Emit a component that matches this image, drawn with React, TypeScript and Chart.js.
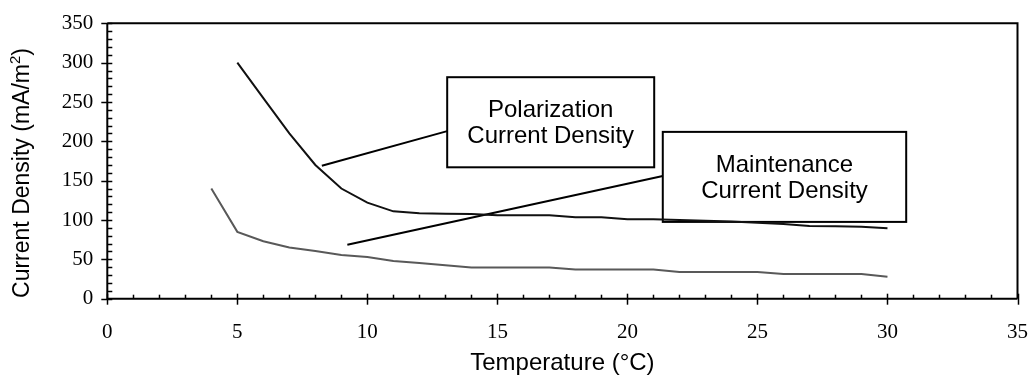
import React, { useEffect, useRef } from "react";
import { Chart, registerables } from "chart.js";

Chart.register(...registerables);

// ---- data ----
const POL_TEMPS = [5, 6, 7, 8, 9, 10, 11, 12, 13, 14, 15, 16, 17, 18, 19, 20, 21, 22, 23, 24, 25, 26, 27, 28, 29, 30];
const POL_VALUES = [300, 255, 210, 170, 140, 122, 111, 108.5, 108, 107.5, 106, 106, 106, 103.5, 103.5, 101, 101, 100, 99, 98, 96.5, 95, 92.5, 92, 91.5, 89.5];

const MAINT_TEMPS = [4, 5, 6, 7, 8, 9, 10, 11, 12, 13, 14, 15, 16, 17, 18, 19, 20, 21, 22, 23, 24, 25, 26, 27, 28, 29, 30];
const MAINT_VALUES = [140, 85, 73, 65, 60.5, 55.5, 53, 48, 45.5, 42.5, 39.5, 39.5, 39.5, 39.5, 37, 37, 37, 37, 34, 34, 34, 34, 31.5, 31.5, 31.5, 31.5, 28];

const X_TICKS = [0, 5, 10, 15, 20, 25, 30, 35];
const Y_TICKS = [0, 50, 100, 150, 200, 250, 300, 350];

const X_TITLE = "Temperature (°C)";
const Y_TITLE_MAIN = "Current Density (mA/m";
const Y_TITLE_SUP = "2";
const Y_TITLE_END = ")";

const POL_LABEL = ["Polarization", "Current Density"];
const MAINT_LABEL = ["Maintenance", "Current Density"];

// annotation geometry in data units
const POL_BOX = { x1: 13.07, x2: 21.03, y1: 167, y2: 281.5 };
const MAINT_BOX = { x1: 21.36, x2: 30.72, y1: 97.6, y2: 212 };
const POL_LEADER = { x1: 8.25, y1: 169, x2: 13.07, y2: 213 };
const MAINT_LEADER = { x1: 9.23, y1: 68.6, x2: 21.36, y2: 156 };

const SANS = "'Liberation Sans', Arial, sans-serif";
const SERIF = "'Liberation Serif', 'Times New Roman', serif";

const decorPlugin = {
  id: "decor",
  beforeDatasetsDraw(chart: any) {
    const { ctx, scales } = chart;
    const xs = scales.x;
    const ys = scales.y;
    const px = (v: number) => xs.getPixelForValue(v);
    const py = (v: number) => ys.getPixelForValue(v);
    ctx.save();
    ctx.strokeStyle = "#000";
    ctx.lineWidth = 2;
    // leaders
    for (const l of [POL_LEADER, MAINT_LEADER]) {
      ctx.beginPath();
      ctx.moveTo(px(l.x1), py(l.y1));
      ctx.lineTo(px(l.x2), py(l.y2));
      ctx.stroke();
    }
    // boxes
    const boxes: [any, string[]][] = [
      [POL_BOX, POL_LABEL],
      [MAINT_BOX, MAINT_LABEL],
    ];
    for (const [b, lines] of boxes) {
      const l = px(b.x1), r = px(b.x2), t = py(b.y2), bt = py(b.y1);
      ctx.fillStyle = "#fff";
      ctx.fillRect(l, t, r - l, bt - t);
      ctx.strokeRect(l, t, r - l, bt - t);
      ctx.fillStyle = "#000";
      ctx.font = `24px ${SANS}`;
      ctx.textAlign = "center";
      ctx.textBaseline = "alphabetic";
      const cx = (l + r) / 2;
      const cy = (t + bt) / 2;
      lines.forEach((s, i) => {
        ctx.fillText(s, cx, cy + (i - 0.5) * 26.5 + 8);
      });
    }
    ctx.restore();
  },
  afterDraw(chart: any) {
    const { ctx, scales, chartArea } = chart;
    const xs = scales.x;
    const ys = scales.y;
    const { left, right, top, bottom } = chartArea;
    ctx.save();
    ctx.strokeStyle = "#000";
    ctx.lineWidth = 2;
    // frame
    ctx.beginPath();
    ctx.moveTo(left, top);
    ctx.lineTo(right, top);
    ctx.lineTo(right, bottom);
    ctx.moveTo(left, top);
    ctx.lineTo(left, bottom);
    ctx.lineTo(right, bottom);
    ctx.stroke();
    ctx.lineWidth = 1.5;
    // y ticks
    for (let v = ys.min; v <= ys.max + 1e-9; v += 10) {
      const y = Math.round(ys.getPixelForValue(v)) + 0.5;
      const major = Math.abs(v % 50) < 1e-9;
      ctx.beginPath();
      ctx.moveTo(major ? left - 6 : left, y);
      ctx.lineTo(left + 5, y);
      ctx.stroke();
    }
    // x ticks
    for (let v = xs.min; v <= xs.max + 1e-9; v += 1) {
      const x = Math.round(xs.getPixelForValue(v)) + 0.5;
      const major = Math.abs(v % 5) < 1e-9;
      ctx.beginPath();
      ctx.moveTo(x, major ? bottom + 6 : bottom);
      ctx.lineTo(x, bottom - (major ? 5 : 4));
      ctx.stroke();
    }
    // x title
    ctx.fillStyle = "#000";
    ctx.font = `24px ${SANS}`;
    ctx.textAlign = "center";
    ctx.textBaseline = "alphabetic";
    ctx.fillText(X_TITLE, (left + right) / 2, 370);
    // y title
    ctx.translate(21, 173);
    ctx.rotate(-Math.PI / 2);
    ctx.textAlign = "left";
    ctx.font = `23px ${SANS}`;
    const w1 = ctx.measureText(Y_TITLE_MAIN).width;
    const w3 = ctx.measureText(Y_TITLE_END).width;
    ctx.font = `15px ${SANS}`;
    const w2 = ctx.measureText(Y_TITLE_SUP).width;
    const total = w1 + w2 + w3;
    const start = -total / 2;
    const base = 8;
    ctx.font = `23px ${SANS}`;
    ctx.fillText(Y_TITLE_MAIN, start, base);
    ctx.font = `15px ${SANS}`;
    ctx.fillText(Y_TITLE_SUP, start + w1, base - 9);
    ctx.font = `23px ${SANS}`;
    ctx.fillText(Y_TITLE_END, start + w1 + w2, base);
    ctx.restore();
  },
};

export default function App() {
  const ref = useRef<HTMLCanvasElement | null>(null);
  useEffect(() => {
    if (!ref.current) return;
    const chart = new Chart(ref.current, {
      type: "line",
      data: {
        datasets: [
          {
            label: "Polarization Current Density",
            data: POL_TEMPS.map((t, i) => ({ x: t, y: POL_VALUES[i] })),
            borderColor: "#111111",
            borderWidth: 2,
            pointRadius: 0,
            tension: 0,
            fill: false,
          },
          {
            label: "Maintenance Current Density",
            data: MAINT_TEMPS.map((t, i) => ({ x: t, y: MAINT_VALUES[i] })),
            borderColor: "#595959",
            borderWidth: 2,
            pointRadius: 0,
            tension: 0,
            fill: false,
          },
        ],
      },
      options: {
        animation: false,
        responsive: true,
        maintainAspectRatio: false,
        layout: { padding: { top: 23.3, right: 12.5, left: 0, bottom: 0 } },
        plugins: {
          legend: { display: false },
          tooltip: { enabled: false },
          title: { display: false },
        },
        scales: {
          x: {
            type: "linear",
            min: 0,
            max: 35,
            afterBuildTicks: (s: any) => {
              s.ticks = X_TICKS.map((v) => ({ value: v }));
            },
            afterFit: (s: any) => {
              s.height = 76.3;
              s.paddingLeft = 0;
              s.paddingRight = 0;
            },
            grid: { display: false, drawTicks: false },
            border: { display: false },
            ticks: {
              color: "#000",
              font: { family: SERIF, size: 21 },
              padding: 21,
              maxRotation: 0,
              autoSkip: false,
            },
          },
          y: {
            type: "linear",
            min: 0,
            max: 350,
            afterBuildTicks: (s: any) => {
              s.ticks = Y_TICKS.map((v) => ({ value: v }));
            },
            afterFit: (s: any) => {
              s.width = 107.3;
              s.paddingTop = 0;
              s.paddingBottom = 0;
            },
            grid: { display: false, drawTicks: false },
            border: { display: false },
            ticks: {
              color: "#000",
              font: { family: SERIF, size: 21 },
              padding: 14,
              autoSkip: false,
            },
          },
        },
      },
      plugins: [decorPlugin],
    });
    return () => chart.destroy();
  }, []);
  return (
    <div style={{ position: "fixed", left: 0, top: 0, width: 1030, height: 375, background: "#fff" }}>
      <canvas ref={ref} />
    </div>
  );
}
